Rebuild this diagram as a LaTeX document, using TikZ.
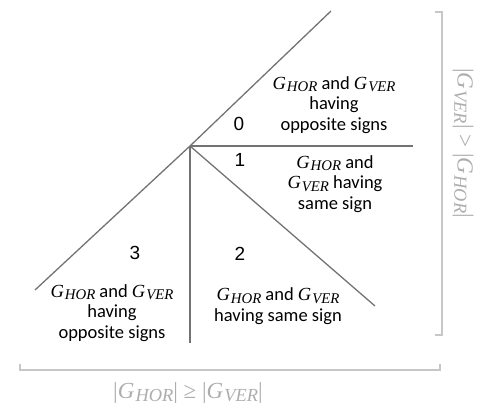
\documentclass[tikz,border=0pt]{standalone}
\usepackage{fontspec}
\usepackage{graphicx}
\setmainfont{Carlito}
\newfontfamily\arialf{Liberation Sans}
\newfontfamily\mathlike{Liberation Serif}
\newcommand\Gs[1]{{\mathlike\itshape G}\kern0.05em\raisebox{-0.3ex}{\scalebox{0.8}{\mathlike\itshape #1}}}
\begin{document}
\begin{tikzpicture}[x=1pt,y=-1pt,
  divline/.style={draw=black!55,line width=1.3pt},
  brace/.style={draw=black!22,line width=1.2pt},
  lbl/.style={align=center,font=\fontsize{18.5}{20.5}\selectfont,inner sep=0pt,text=black},
  num/.style={font=\arialf\fontsize{19}{19}\selectfont,inner sep=0pt},
  glabel/.style={font=\mathlike\fontsize{23}{23}\selectfont,text=black!32,inner sep=0pt}]
\useasboundingbox (0,0) rectangle (501,419);
% dividing lines
\coordinate (O) at (190,146);
\coordinate (UR) at (331,11);
\coordinate (LL) at (35,290);
\coordinate (H) at (413,146);
\coordinate (V) at (190,343);
\coordinate (DR) at (375,306);
\draw[divline] (LL) -- (O) -- (UR);
\draw[divline] (O) -- (H);
\draw[divline] (O) -- (V);
\draw[divline] (O) -- (DR);
% region numbers
\node[num] (n0) at (239,124) {0};
\node[num] (n1) at (240,160) {1};
\node[num] (n2) at (240,254) {2};
\node[num] (n3) at (135,253) {3};
% region texts
\node[lbl] (t0) at (334,105) {\Gs{HOR} and \Gs{VER}\\having\\opposite signs};
\node[lbl] (t1) at (335,184) {\Gs{HOR} and\\\Gs{VER} having\\same sign};
\node[lbl] (t2) at (278,306) {\Gs{HOR} and \Gs{VER}\\having same sign};
\node[lbl] (t3) at (112,313) {\Gs{HOR} and \Gs{VER}\\having\\opposite signs};
% right bracket
\coordinate (RB1) at (435,12);
\coordinate (RB2) at (442,12);
\coordinate (RB3) at (442,335);
\coordinate (RB4) at (435,335);
\draw[brace] (RB1) -- (RB2) -- (RB3) -- (RB4);
\node[glabel,rotate=-90] (gr) at (463,143) {|\Gs{VER}| > |\Gs{HOR}|};
% bottom bracket
\coordinate (BB1) at (20,364);
\coordinate (BB2) at (20,370);
\coordinate (BB3) at (440,370);
\coordinate (BB4) at (440,364);
\draw[brace] (BB1) -- (BB2) -- (BB3) -- (BB4);
\node[glabel] (gb) at (188,393) {|\Gs{HOR}| ≥ |\Gs{VER}|};
\end{tikzpicture}
\end{document}
